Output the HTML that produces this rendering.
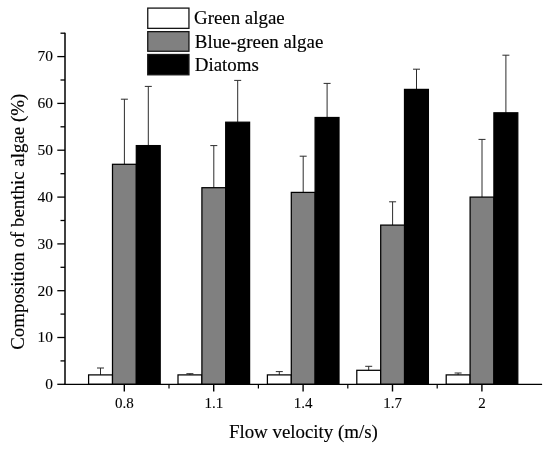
<!DOCTYPE html>
<html><head><meta charset="utf-8"><title>Composition of benthic algae</title>
<style>
html,body{margin:0;padding:0;background:#fff;}
body{width:550px;height:450px;overflow:hidden;}
svg{display:block;}
text{font-family:"Liberation Serif","Times New Roman",serif;fill:#000;stroke:#000;stroke-width:0.3px;}
.t15{font-size:15px;stroke-width:0.1px;}
.t18{font-size:18.9px;stroke-width:0.15px;}
</style></head><body>
<svg width="550" height="450" viewBox="0 0 550 450">
<rect width="550" height="450" fill="#fff"/>

<g stroke="#2c2c2c" stroke-width="1" fill="none"><line x1="100.5" y1="374.9" x2="100.5" y2="368.0"/><line x1="97.0" y1="368.0" x2="104.0" y2="368.0"/></g>
<rect x="88.6" y="374.9" width="23.9" height="9.4" fill="#fff" stroke="#000" stroke-width="1.25"/>
<g stroke="#2c2c2c" stroke-width="1" fill="none"><line x1="124.4" y1="164.3" x2="124.4" y2="99.2"/><line x1="120.9" y1="99.2" x2="127.9" y2="99.2"/></g>
<rect x="112.5" y="164.3" width="23.9" height="220.0" fill="#808080" stroke="#000" stroke-width="1.25"/>
<g stroke="#2c2c2c" stroke-width="1" fill="none"><line x1="148.3" y1="145.6" x2="148.3" y2="86.4"/><line x1="144.8" y1="86.4" x2="151.8" y2="86.4"/></g>
<rect x="136.3" y="145.6" width="23.9" height="238.7" fill="#000" stroke="#000" stroke-width="1.25"/>
<g stroke="#2c2c2c" stroke-width="1" fill="none"><line x1="189.9" y1="374.9" x2="189.9" y2="373.7"/><line x1="186.4" y1="373.7" x2="193.4" y2="373.7"/></g>
<rect x="178.0" y="374.9" width="23.9" height="9.4" fill="#fff" stroke="#000" stroke-width="1.25"/>
<g stroke="#2c2c2c" stroke-width="1" fill="none"><line x1="213.8" y1="187.7" x2="213.8" y2="145.6"/><line x1="210.3" y1="145.6" x2="217.3" y2="145.6"/></g>
<rect x="201.9" y="187.7" width="23.9" height="196.6" fill="#808080" stroke="#000" stroke-width="1.25"/>
<g stroke="#2c2c2c" stroke-width="1" fill="none"><line x1="237.7" y1="122.2" x2="237.7" y2="80.4"/><line x1="234.2" y1="80.4" x2="241.2" y2="80.4"/></g>
<rect x="225.7" y="122.2" width="23.9" height="262.1" fill="#000" stroke="#000" stroke-width="1.25"/>
<g stroke="#2c2c2c" stroke-width="1" fill="none"><line x1="279.3" y1="374.9" x2="279.3" y2="371.6"/><line x1="275.8" y1="371.6" x2="282.8" y2="371.6"/></g>
<rect x="267.4" y="374.9" width="23.9" height="9.4" fill="#fff" stroke="#000" stroke-width="1.25"/>
<g stroke="#2c2c2c" stroke-width="1" fill="none"><line x1="303.2" y1="192.4" x2="303.2" y2="156.2"/><line x1="299.7" y1="156.2" x2="306.7" y2="156.2"/></g>
<rect x="291.3" y="192.4" width="23.9" height="191.9" fill="#808080" stroke="#000" stroke-width="1.25"/>
<g stroke="#2c2c2c" stroke-width="1" fill="none"><line x1="327.1" y1="117.5" x2="327.1" y2="83.4"/><line x1="323.6" y1="83.4" x2="330.6" y2="83.4"/></g>
<rect x="315.1" y="117.5" width="23.9" height="266.8" fill="#000" stroke="#000" stroke-width="1.25"/>
<g stroke="#2c2c2c" stroke-width="1" fill="none"><line x1="368.7" y1="370.3" x2="368.7" y2="366.3"/><line x1="365.2" y1="366.3" x2="372.2" y2="366.3"/></g>
<rect x="356.8" y="370.3" width="23.9" height="14.0" fill="#fff" stroke="#000" stroke-width="1.25"/>
<g stroke="#2c2c2c" stroke-width="1" fill="none"><line x1="392.6" y1="225.1" x2="392.6" y2="201.8"/><line x1="389.1" y1="201.8" x2="396.1" y2="201.8"/></g>
<rect x="380.7" y="225.1" width="23.9" height="159.2" fill="#808080" stroke="#000" stroke-width="1.25"/>
<g stroke="#2c2c2c" stroke-width="1" fill="none"><line x1="416.5" y1="89.4" x2="416.5" y2="69.2"/><line x1="413.0" y1="69.2" x2="420.0" y2="69.2"/></g>
<rect x="404.5" y="89.4" width="23.9" height="294.9" fill="#000" stroke="#000" stroke-width="1.25"/>
<g stroke="#2c2c2c" stroke-width="1" fill="none"><line x1="458.1" y1="374.9" x2="458.1" y2="373.0"/><line x1="454.6" y1="373.0" x2="461.6" y2="373.0"/></g>
<rect x="446.2" y="374.9" width="23.9" height="9.4" fill="#fff" stroke="#000" stroke-width="1.25"/>
<g stroke="#2c2c2c" stroke-width="1" fill="none"><line x1="482.0" y1="197.1" x2="482.0" y2="139.4"/><line x1="478.5" y1="139.4" x2="485.5" y2="139.4"/></g>
<rect x="470.1" y="197.1" width="23.9" height="187.2" fill="#808080" stroke="#000" stroke-width="1.25"/>
<g stroke="#2c2c2c" stroke-width="1" fill="none"><line x1="505.9" y1="112.8" x2="505.9" y2="55.2"/><line x1="502.4" y1="55.2" x2="509.4" y2="55.2"/></g>
<rect x="493.9" y="112.8" width="23.9" height="271.5" fill="#000" stroke="#000" stroke-width="1.25"/>
<g stroke="#000" stroke-width="1.5" fill="none">
<line x1="65.0" y1="32.7" x2="65.0" y2="385.00"/>
<line x1="64.3" y1="384.45" x2="542.1" y2="384.45" stroke-width="1.3"/>
<line x1="57.3" y1="384.3" x2="65" y2="384.3" stroke-width="1.3"/>
<line x1="57.3" y1="337.5" x2="65" y2="337.5" stroke-width="1.3"/>
<line x1="57.3" y1="290.7" x2="65" y2="290.7" stroke-width="1.3"/>
<line x1="57.3" y1="243.9" x2="65" y2="243.9" stroke-width="1.3"/>
<line x1="57.3" y1="197.1" x2="65" y2="197.1" stroke-width="1.3"/>
<line x1="57.3" y1="150.2" x2="65" y2="150.2" stroke-width="1.3"/>
<line x1="57.3" y1="103.4" x2="65" y2="103.4" stroke-width="1.3"/>
<line x1="57.3" y1="56.6" x2="65" y2="56.6" stroke-width="1.3"/>
<line x1="60.5" y1="360.9" x2="65" y2="360.9" stroke-width="1.3"/>
<line x1="60.5" y1="314.1" x2="65" y2="314.1" stroke-width="1.3"/>
<line x1="60.5" y1="267.3" x2="65" y2="267.3" stroke-width="1.3"/>
<line x1="60.5" y1="220.5" x2="65" y2="220.5" stroke-width="1.3"/>
<line x1="60.5" y1="173.7" x2="65" y2="173.7" stroke-width="1.3"/>
<line x1="60.5" y1="126.8" x2="65" y2="126.8" stroke-width="1.3"/>
<line x1="60.5" y1="80.0" x2="65" y2="80.0" stroke-width="1.3"/>
<line x1="60.5" y1="33.2" x2="65" y2="33.2" stroke-width="1.3"/>
<line x1="124.3" y1="384.3" x2="124.3" y2="391.5" stroke-width="1.4"/>
<line x1="213.7" y1="384.3" x2="213.7" y2="391.5" stroke-width="1.4"/>
<line x1="303.1" y1="384.3" x2="303.1" y2="391.5" stroke-width="1.4"/>
<line x1="392.5" y1="384.3" x2="392.5" y2="391.5" stroke-width="1.4"/>
<line x1="481.9" y1="384.3" x2="481.9" y2="391.5" stroke-width="1.4"/>
<line x1="169.0" y1="384.3" x2="169.0" y2="388.6" stroke-width="1.2"/>
<line x1="258.4" y1="384.3" x2="258.4" y2="388.6" stroke-width="1.2"/>
<line x1="347.8" y1="384.3" x2="347.8" y2="388.6" stroke-width="1.2"/>
<line x1="437.2" y1="384.3" x2="437.2" y2="388.6" stroke-width="1.2"/>
</g>
<text class="t15" style="font-size:15.5px" x="52.9" y="389.1" text-anchor="end">0</text>
<text class="t15" style="font-size:15.5px" x="52.9" y="342.3" text-anchor="end">10</text>
<text class="t15" style="font-size:15.5px" x="52.9" y="295.5" text-anchor="end">20</text>
<text class="t15" style="font-size:15.5px" x="52.9" y="248.7" text-anchor="end">30</text>
<text class="t15" style="font-size:15.5px" x="52.9" y="201.9" text-anchor="end">40</text>
<text class="t15" style="font-size:15.5px" x="52.9" y="155.1" text-anchor="end">50</text>
<text class="t15" style="font-size:15.5px" x="52.9" y="108.2" text-anchor="end">60</text>
<text class="t15" style="font-size:15.5px" x="52.9" y="61.4" text-anchor="end">70</text>
<text class="t15" x="124.4" y="408.4" text-anchor="middle">0.8</text>
<text class="t15" x="213.8" y="408.4" text-anchor="middle">1.1</text>
<text class="t15" x="303.2" y="408.4" text-anchor="middle">1.4</text>
<text class="t15" x="392.6" y="408.4" text-anchor="middle">1.7</text>
<text class="t15" x="482.0" y="408.4" text-anchor="middle">2</text>
<text class="t18" x="303.4" y="438.3" text-anchor="middle">Flow velocity (m/s)</text>
<text class="t18" transform="translate(24.0,221.8) rotate(-90)" text-anchor="middle">Composition of benthic algae (%)</text>
<rect x="147.75" y="8.10" width="41.2" height="20.25" fill="#fff" stroke="#151515" stroke-width="1.3"/>
<text class="t18" x="194" y="24.1">Green algae</text>
<rect x="147.75" y="31.65" width="41.2" height="19.60" fill="#808080" stroke="#151515" stroke-width="1.3"/>
<text class="t18" x="194.8" y="47.9">Blue-green algae</text>
<rect x="147.75" y="54.50" width="41.2" height="20.30" fill="#000" stroke="#151515" stroke-width="1.3"/>
<text class="t18" x="194.8" y="70.7">Diatoms</text>
</svg>
</body></html>
